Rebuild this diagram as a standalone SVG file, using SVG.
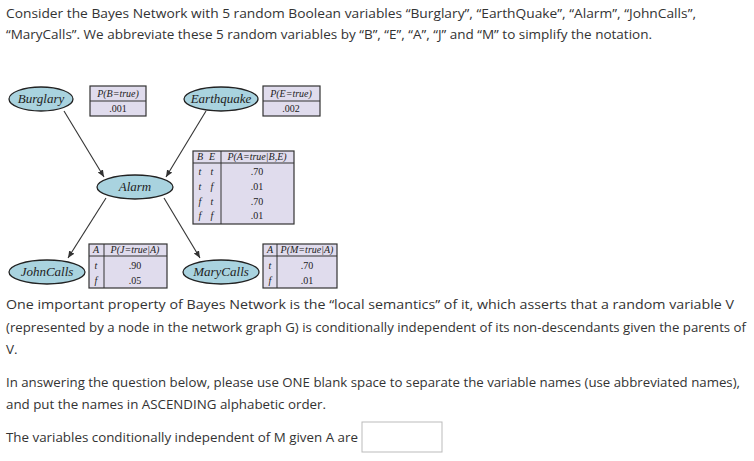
<svg xmlns="http://www.w3.org/2000/svg" width="754" height="461" viewBox="0 0 754 461">
<style>
.p{font-family:"Open Sans","Noto Sans",sans-serif;font-size:13.5px;fill:#333}
.n{fill:#a9d3df;stroke:#222;stroke-width:1.3}
.nt{font-family:"Liberation Serif",serif;font-style:italic;font-size:13px;fill:#222;text-anchor:middle}
.tb{fill:#e0dced;stroke:#333;stroke-width:1.2}
.tl{stroke:#333;stroke-width:1}
.tt{font-family:"Liberation Serif",serif;font-size:10px;fill:#222;text-anchor:middle}
.ti{font-style:italic}
.e{stroke:#333;stroke-width:1.1;marker-end:url(#a)}
</style>
<defs><marker id="a" markerWidth="8" markerHeight="8" refX="7" refY="3" orient="auto" markerUnits="userSpaceOnUse"><path d="M0,0 L7,3 L0,6 z" fill="#333"/></marker></defs>
<rect width="754" height="461" fill="#fff"/>
<text class="p" x="6" y="18" textLength="690" lengthAdjust="spacingAndGlyphs">Consider the Bayes Network with 5 random Boolean variables “Burglary”, “EarthQuake”, “Alarm”, “JohnCalls”,</text>
<text class="p" x="6" y="39" textLength="646" lengthAdjust="spacingAndGlyphs">“MaryCalls”. We abbreviate these 5 random variables by “B”, “E”, “A”, “J” and “M” to simplify the notation.</text>
<g id="connectors">
<line class="e" x1="64" y1="111" x2="104" y2="177"/>
<line class="e" x1="206" y1="111" x2="166" y2="177"/>
<line class="e" x1="106" y1="198" x2="68" y2="258"/>
<line class="e" x1="164" y1="198" x2="200" y2="258"/>
</g>
<g id="burglary"><ellipse class="n" cx="41" cy="99" rx="32" ry="12"/><text class="nt" x="41" y="103">Burglary</text>
<rect class="tb" x="90" y="86" width="56" height="30"/><line class="tl" x1="90" y1="101" x2="146" y2="101"/>
<text class="tt ti" x="118" y="97">P(B=true)</text><text class="tt" x="118" y="112">.001</text></g>
<g id="earthquake"><ellipse class="n" cx="221" cy="99" rx="37" ry="12"/><text class="nt" x="221" y="103">Earthquake</text>
<rect class="tb" x="263" y="86" width="57" height="30"/><line class="tl" x1="263" y1="101" x2="320" y2="101"/>
<text class="tt ti" x="291" y="97">P(E=true)</text><text class="tt" x="291" y="112">.002</text></g>
<g id="alarm"><ellipse class="n" cx="135" cy="187" rx="38" ry="12"/><text class="nt" x="135" y="191">Alarm</text>
<rect class="tb" x="193" y="151" width="101" height="73"/><line class="tl" x1="193" y1="163" x2="294" y2="163"/><line class="tl" x1="221" y1="151" x2="221" y2="224"/>
<text class="tt ti" x="200" y="160">B</text><text class="tt ti" x="212" y="160">E</text><text class="tt ti" x="257" y="160">P(A=true|B,E)</text>
<text class="tt ti" x="200" y="175">t</text><text class="tt ti" x="212" y="175">t</text><text class="tt" x="257" y="175">.70</text>
<text class="tt ti" x="200" y="190">t</text><text class="tt ti" x="212" y="190">f</text><text class="tt" x="257" y="190">.01</text>
<text class="tt ti" x="200" y="205">f</text><text class="tt ti" x="212" y="205">t</text><text class="tt" x="257" y="205">.70</text>
<text class="tt ti" x="200" y="219">f</text><text class="tt ti" x="212" y="219">f</text><text class="tt" x="257" y="219">.01</text></g>
<g id="johncalls"><ellipse class="n" cx="47" cy="272" rx="38" ry="12"/><text class="nt" x="47" y="276">JohnCalls</text>
<rect class="tb" x="89" y="244" width="78" height="44"/><line class="tl" x1="89" y1="256" x2="167" y2="256"/><line class="tl" x1="104" y1="244" x2="104" y2="288"/>
<text class="tt ti" x="96" y="253">A</text><text class="tt ti" x="135" y="253">P(J=true|A)</text>
<text class="tt ti" x="96" y="269">t</text><text class="tt" x="135" y="269">.90</text>
<text class="tt ti" x="96" y="284">f</text><text class="tt" x="135" y="284">.05</text></g>
<g id="marycalls"><ellipse class="n" cx="221" cy="272" rx="38" ry="12"/><text class="nt" x="221" y="276">MaryCalls</text>
<rect class="tb" x="263" y="244" width="74" height="44"/><line class="tl" x1="263" y1="256" x2="337" y2="256"/><line class="tl" x1="277" y1="244" x2="277" y2="288"/>
<text class="tt ti" x="270" y="253">A</text><text class="tt ti" x="307" y="253">P(M=true|A)</text>
<text class="tt ti" x="270" y="269">t</text><text class="tt" x="307" y="269">.70</text>
<text class="tt ti" x="270" y="284">f</text><text class="tt" x="307" y="284">.01</text></g>
<text class="p" x="6" y="309" textLength="728" lengthAdjust="spacingAndGlyphs">One important property of Bayes Network is the “local semantics” of it, which asserts that a random variable V</text>
<text class="p" x="6" y="332" textLength="740" lengthAdjust="spacingAndGlyphs">(represented by a node  in the network graph G) is conditionally independent of its non-descendants given the parents of</text>
<text class="p" x="6" y="354">V.</text>
<text class="p" x="6" y="387" textLength="734" lengthAdjust="spacingAndGlyphs">In answering the question below, please use ONE blank space to separate the variable names (use abbreviated names),</text>
<text class="p" x="6" y="409" textLength="320" lengthAdjust="spacingAndGlyphs">and put the names in ASCENDING alphabetic order.</text>
<text class="p" x="6" y="442" textLength="352" lengthAdjust="spacingAndGlyphs">The variables conditionally independent of M given A are</text>
<rect x="362" y="422" width="80" height="30" fill="#fff" stroke="#bbb"/>
</svg>
